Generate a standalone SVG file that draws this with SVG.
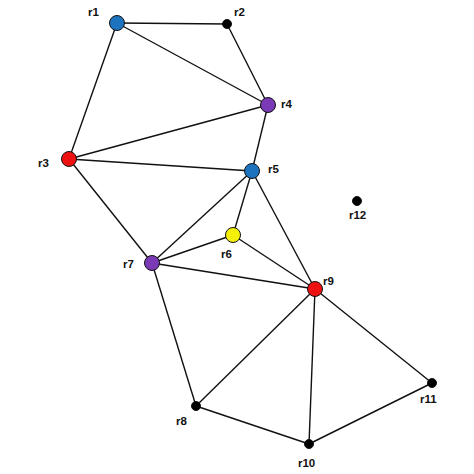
<svg xmlns="http://www.w3.org/2000/svg" width="474" height="474" viewBox="0 0 474 474">
<style>
.e{stroke:#111;stroke-width:1.4;fill:none}
.n{stroke:#111;stroke-width:1}
.t{font-family:"Liberation Sans",Arial,sans-serif;font-size:11.5px;font-weight:bold;fill:#111}
</style>
<rect width="474" height="474" fill="#fff"/>
<g id="edges">
<line class="e" x1="117" y1="23" x2="227" y2="24"/>
<line class="e" x1="117" y1="23" x2="268" y2="105"/>
<line class="e" x1="117" y1="23" x2="69" y2="159"/>
<line class="e" x1="227" y1="24" x2="268" y2="105"/>
<line class="e" x1="268" y1="105" x2="69" y2="159"/>
<line class="e" x1="268" y1="105" x2="252" y2="171"/>
<line class="e" x1="69" y1="159" x2="252" y2="171"/>
<line class="e" x1="69" y1="159" x2="152" y2="263"/>
<line class="e" x1="252" y1="171" x2="152" y2="263"/>
<line class="e" x1="252" y1="171" x2="233" y2="235"/>
<line class="e" x1="252" y1="171" x2="315" y2="289"/>
<line class="e" x1="233" y1="235" x2="152" y2="263"/>
<line class="e" x1="233" y1="235" x2="315" y2="289"/>
<line class="e" x1="152" y1="263" x2="315" y2="289"/>
<line class="e" x1="152" y1="263" x2="196" y2="406"/>
<line class="e" x1="315" y1="289" x2="196" y2="406"/>
<line class="e" x1="315" y1="289" x2="309" y2="444"/>
<line class="e" x1="315" y1="289" x2="432" y2="383"/>
<line class="e" x1="196" y1="406" x2="309" y2="444"/>
<line class="e" x1="309" y1="444" x2="432" y2="383"/>
</g>
<g id="r1"><circle class="n" cx="117" cy="23" r="7.5" fill="#1e73be"/><text class="t" x="88" y="16">r1</text></g>
<g id="r2"><circle class="n" cx="227" cy="24" r="4.5" fill="#000"/><text class="t" x="234" y="16">r2</text></g>
<g id="r3"><circle class="n" cx="69" cy="159" r="7.5" fill="#ee1111"/><text class="t" x="38" y="167">r3</text></g>
<g id="r4"><circle class="n" cx="268" cy="105" r="7.5" fill="#7b3ab5"/><text class="t" x="281" y="108">r4</text></g>
<g id="r5"><circle class="n" cx="252" cy="171" r="7.5" fill="#1e73be"/><text class="t" x="268" y="173">r5</text></g>
<g id="r6"><circle class="n" cx="233" cy="235" r="7.5" fill="#f5f00a"/><text class="t" x="221" y="258">r6</text></g>
<g id="r7"><circle class="n" cx="152" cy="263" r="7.5" fill="#7b3ab5"/><text class="t" x="123" y="268">r7</text></g>
<g id="r8"><circle class="n" cx="196" cy="406" r="4.5" fill="#000"/><text class="t" x="176" y="425">r8</text></g>
<g id="r9"><circle class="n" cx="315" cy="289" r="7.5" fill="#ee1111"/><text class="t" x="323" y="285">r9</text></g>
<g id="r10"><circle class="n" cx="309" cy="444" r="4.5" fill="#000"/><text class="t" x="298" y="467">r10</text></g>
<g id="r11"><circle class="n" cx="432" cy="383" r="4.5" fill="#000"/><text class="t" x="420" y="403">r11</text></g>
<g id="r12"><circle class="n" cx="357" cy="201" r="4.5" fill="#000"/><text class="t" x="349" y="219">r12</text></g>
</svg>
